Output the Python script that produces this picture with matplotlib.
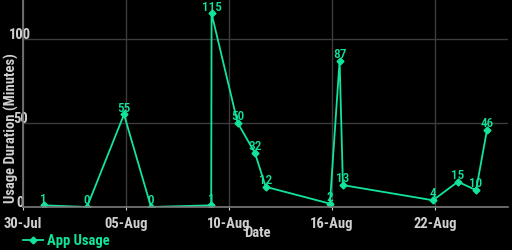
import matplotlib
matplotlib.use("Agg")
import matplotlib.pyplot as plt
import matplotlib.dates as mdates
import pandas as pd

# usage samples (timestamp, minutes)
dates = ["2023-07-31 21:00", "2023-08-03 05:30", "2023-08-05 05:45", "2023-08-06 17:00",
         "2023-08-09 23:30", "2023-08-10 00:00", "2023-08-11 10:00", "2023-08-12 08:40",
         "2023-08-12 22:35", "2023-08-16 10:20", "2023-08-16 23:00", "2023-08-17 03:20",
         "2023-08-22 00:45", "2023-08-23 09:20", "2023-08-24 09:00", "2023-08-24 23:20"]
minutes = [1, 0, 55, 0, 1, 115, 50, 32, 12, 2, 87, 13, 4, 15, 10, 46]

x_ticks = ["2023-07-30 18:00", "2023-08-05 08:24", "2023-08-10 22:48",
           "2023-08-16 13:12", "2023-08-22 03:36"]
x_range = ["2023-07-30 18:00", "2023-08-26 02:40"]
y_ticks = [0, 50, 100]

GREEN = "#12e59a"
GREY = "#cfcfcf"
plt.rcParams['font.family'] = ['Roboto Condensed', 'DejaVu Sans']
plt.rcParams['font.stretch'] = 'condensed'

t = pd.to_datetime(dates)

fig = plt.figure(figsize=(5.12, 2.5), dpi=100, facecolor="black")
ax = fig.add_axes([23 / 512, 43 / 250, 485 / 512, 207 / 250])
ax.set_facecolor("black")

ax.plot(t, minutes, color=GREEN, lw=1.3, marker="D", ms=3.5, label="App Usage")
for xi, yi in zip(t, minutes):
    ax.annotate(str(yi), (xi, yi), xytext=(0, 2), textcoords="offset points",
                ha="center", va="baseline", color=GREEN, fontsize=9.5, fontweight="medium")

ax.set_xlim(pd.to_datetime(x_range))
ax.set_ylim(0, 123)
ax.set_xticks(pd.to_datetime(x_ticks))
ax.xaxis.set_major_formatter(mdates.DateFormatter("%d-%b"))
ax.set_yticks(y_ticks)
ax.grid(True, color="#3c3c3c", lw=1)
ax.set_axisbelow(True)

for s in ["top", "right"]:
    ax.spines[s].set_visible(False)
for s in ["left", "bottom"]:
    ax.spines[s].set_color("#7a7a7a")
    ax.spines[s].set_linewidth(1.2)

ax.tick_params(axis="x", colors=GREY, length=2, pad=5, labelsize=10.5)
ax.tick_params(axis="y", colors=GREY, length=0, pad=2, labelsize=10.5)
for lb in ax.get_xticklabels() + ax.get_yticklabels():
    lb.set_fontweight("bold")
for lb in ax.get_yticklabels():
    lb.set_horizontalalignment("center")
    lb.set_verticalalignment("baseline")

fig.text(11 / 512, 1 - 128 / 250, "Usage Duration (Minutes)", rotation=90, color=GREY,
         fontsize=10.5, fontweight="bold", ha="center", va="center")
fig.text(257 / 512, 1 - 233 / 250, "Date", color=GREY, fontsize=10.5,
         fontweight="bold", ha="center", va="center")

leg = fig.legend(loc="center left", bbox_to_anchor=(17 / 512, 1 - 241 / 250), frameon=False,
                 handlelength=1.4, handletextpad=0.25, borderaxespad=0,
                 prop={"size": 10.5, "weight": "bold"})
for txt in leg.get_texts():
    txt.set_color(GREEN)

fig.savefig("out.png", dpi=100, facecolor="black")
